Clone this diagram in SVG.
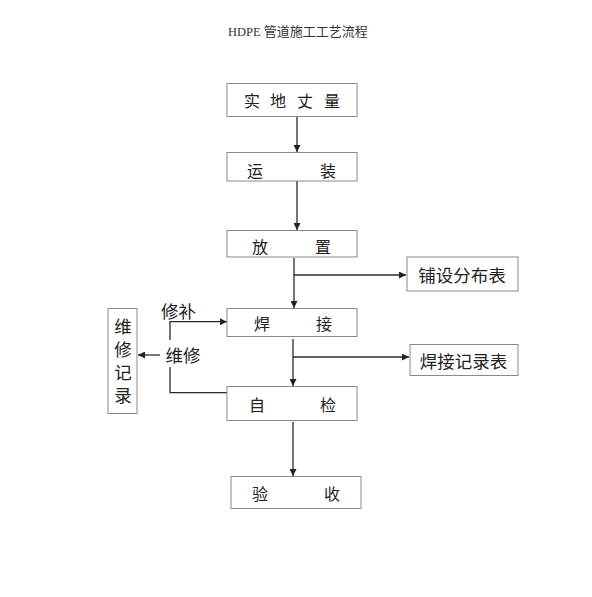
<svg xmlns="http://www.w3.org/2000/svg" width="592" height="597" viewBox="0 0 592 597">
<defs>
<style>
.box{fill:#fff;stroke:#8a8a8a;stroke-width:1}
.ln{fill:none;stroke:#2a2a2a;stroke-width:1.3}
.t{font-family:"Noto Sans CJK SC",sans-serif;font-size:16px;fill:#222;text-anchor:middle;dominant-baseline:central}
.s{font-family:"Noto Sans CJK SC",sans-serif;font-size:17.5px;fill:#222;text-anchor:middle;dominant-baseline:central}
.v{font-family:"Noto Sans CJK SC",sans-serif;font-size:17.5px;fill:#222;writing-mode:vertical-rl;text-anchor:middle;letter-spacing:5.2px}
.title{font-family:"Liberation Serif","Noto Sans CJK SC",serif;font-size:12.5px;fill:#333}
</style>
<marker id="ah" viewBox="0 0 10 10" refX="10" refY="5" markerWidth="7" markerHeight="7" markerUnits="userSpaceOnUse" orient="auto">
<path d="M0,0 L10,5 L0,10 z" fill="#222"/>
</marker>
</defs>
<rect width="592" height="597" fill="#fff"/>
<text class="title" x="228" y="36">HDPE <tspan font-family="Noto Sans CJK SC, sans-serif" font-size="13">管道施工工艺流程</tspan></text>

<g id="connectors">
<line class="ln" x1="297" y1="117" x2="297" y2="152" marker-end="url(#ah)"/>
<line class="ln" x1="297" y1="181" x2="297" y2="230" marker-end="url(#ah)"/>
<line class="ln" x1="294" y1="258" x2="294" y2="308" marker-end="url(#ah)"/>
<line class="ln" x1="294" y1="275" x2="406" y2="275" marker-end="url(#ah)"/>
<line class="ln" x1="293" y1="339" x2="293" y2="386" marker-end="url(#ah)"/>
<line class="ln" x1="293" y1="357" x2="409" y2="357" marker-end="url(#ah)"/>
<line class="ln" x1="293" y1="422" x2="293" y2="476" marker-end="url(#ah)"/>
<path class="ln" d="M170,340 V321.7 H227" marker-end="url(#ah)"/>
<path class="ln" d="M230,392.7 H170 V367"/>
<line class="ln" x1="160" y1="355" x2="138" y2="355" marker-end="url(#ah)"/>
</g>

<g id="n1"><rect class="box" x="227" y="83.5" width="130" height="33"/>
<text class="t" x="252" y="100">实</text><text class="t" x="278" y="100">地</text><text class="t" x="305" y="100">丈</text><text class="t" x="332" y="100">量</text></g>
<g id="n2"><rect class="box" x="227" y="152.5" width="130" height="28.5"/>
<text class="t" x="255" y="169.5">运</text><text class="t" x="328" y="169.5">装</text></g>
<g id="n3"><rect class="box" x="227" y="230.5" width="130" height="26.5"/>
<text class="t" x="260" y="246">放</text><text class="t" x="323" y="246">置</text></g>
<g id="n4"><rect class="box" x="227" y="308.5" width="130" height="28"/>
<text class="t" x="262" y="323">焊</text><text class="t" x="324" y="323">接</text></g>
<g id="n5"><rect class="box" x="227" y="386.5" width="130" height="34"/>
<text class="t" x="257" y="403.5">自</text><text class="t" x="328" y="403.5">检</text></g>
<g id="n6"><rect class="box" x="231" y="476.5" width="130" height="32"/>
<text class="t" x="260" y="493">验</text><text class="t" x="332" y="493">收</text></g>
<g id="n7"><rect class="box" x="407" y="257" width="111" height="34"/>
<text class="s" x="462" y="274.5">铺设分布表</text></g>
<g id="n8"><rect class="box" x="410" y="344.5" width="108" height="31"/>
<text class="s" x="463.5" y="360">焊接记录表</text></g>
<g id="n9"><rect class="box" x="108" y="308.5" width="29" height="105"/>
<text class="v" x="123" y="363.5">维修记录</text></g>
<g id="l1"><text class="s" x="178.5" y="310">修补</text></g>
<g id="l2"><text class="s" x="183" y="354.5">维修</text></g>
</svg>
